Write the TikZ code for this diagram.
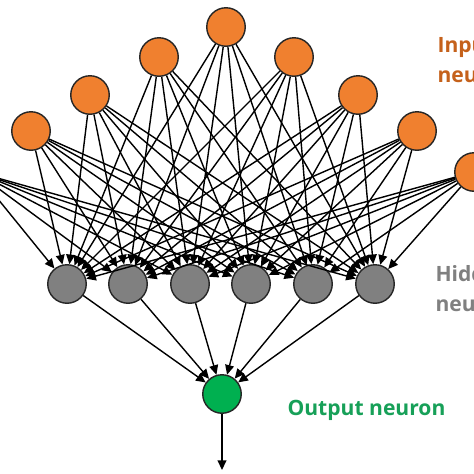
\documentclass[tikz,border=0pt]{standalone}
\usepackage{fontspec}
\setsansfont{Open Sans}
\usepackage{tikz}
\usetikzlibrary{arrows.meta}
\definecolor{inorange}{HTML}{F0802F}
\definecolor{intext}{HTML}{C5611B}
\definecolor{hidgray}{HTML}{808080}
\definecolor{outgreen}{HTML}{00B050}
\definecolor{outtext}{HTML}{17A058}

\begin{document}
\begin{tikzpicture}[x=0.02cm, y=-0.02cm, line width=0.8pt,
    >={Triangle[length=5.5pt,width=5pt]},
    neuron/.style={circle, draw=black!85, minimum size=0.77cm, inner sep=0pt},
    layername/.style={anchor=north west, align=left, font=\sffamily\bfseries\fontsize{12}{17}\selectfont}]
  \useasboundingbox (0,0) rectangle (474,474);
  \clip (0,0) rectangle (474,474);
  % input layer
  \node[neuron, fill=inorange] (in0) at (-24, 172) {};
  \node[neuron, fill=inorange] (in1) at (31, 131) {};
  \node[neuron, fill=inorange] (in2) at (90, 95) {};
  \node[neuron, fill=inorange] (in3) at (159, 57) {};
  \node[neuron, fill=inorange] (in4) at (226, 27) {};
  \node[neuron, fill=inorange] (in5) at (294, 57) {};
  \node[neuron, fill=inorange] (in6) at (358, 95) {};
  \node[neuron, fill=inorange] (in7) at (417, 131) {};
  \node[neuron, fill=inorange] (in8) at (474, 172) {};
  % hidden layer
  \node[neuron, fill=hidgray] (hid1) at (67, 284) {};
  \node[neuron, fill=hidgray] (hid2) at (128, 284) {};
  \node[neuron, fill=hidgray] (hid3) at (190, 284) {};
  \node[neuron, fill=hidgray] (hid4) at (251, 284) {};
  \node[neuron, fill=hidgray] (hid5) at (313, 284) {};
  \node[neuron, fill=hidgray] (hid6) at (375, 284) {};
  % output
  \node[neuron, fill=outgreen] (out) at (222, 394) {};
  \coordinate (outend) at (222, 470);
  \foreach \i in {0,...,8}
    \foreach \h in {1,...,6}
      \draw[->] (in\i) -- (hid\h);
  \foreach \h in {1,...,6}
    \draw[->] (hid\h) -- (out);
  \draw[->] (out) -- (outend);
  % labels (cut off at the right edge, as in the original)
  \node[layername, text=intext] (inlabel) at (431, 31) {Input\\neurons};
  \node[layername, text=hidgray] (hidlabel) at (429, 259) {Hidden\\neurons};
  \node[layername, text=outtext, anchor=base west] (outlabel) at (281, 415) {Output neuron};
\end{tikzpicture}
\end{document}
